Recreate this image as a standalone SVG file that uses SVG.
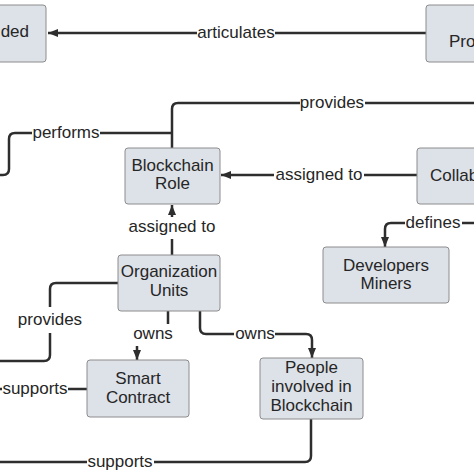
<svg xmlns="http://www.w3.org/2000/svg" width="474" height="474" viewBox="0 0 474 474">
<defs>
<marker id="arr" viewBox="0 0 10 8" markerWidth="10" markerHeight="8" refX="10" refY="4" orient="auto" markerUnits="userSpaceOnUse">
<path d="M0,0 L10,4 L0,8 z" fill="#2e2e2e"/>
</marker>
<style>
.box{fill:#dde1e8;stroke:#8c8c8c;stroke-width:1}
.t{font-family:"Liberation Sans",Arial,sans-serif;font-size:17px;fill:#262626;text-anchor:middle}
.c{fill:none;stroke:#2e2e2e;stroke-width:2.5}
.lb{fill:#ffffff}
</style>
</defs>
<rect width="474" height="474" fill="#ffffff"/>
<g id="connectors">
<path class="c" d="M426 33 L48 33" marker-end="url(#arr)"/>
<path class="c" d="M474 103 L178 103 Q172 103 172 109 L172 148"/>
<path class="c" d="M172 133 L15 133 Q9 133 9 139 L9 169 Q9 175 3 175 L0 175"/>
<path class="c" d="M417 175 L221 175" marker-end="url(#arr)"/>
<path class="c" d="M172 255 L172 205" marker-end="url(#arr)"/>
<path class="c" d="M474 223 L391 223 Q385 223 385 229 L385 247" marker-end="url(#arr)"/>
<path class="c" d="M118 283 L56 283 Q50 283 50 289 L50 355 Q50 361 44 361 L0 361"/>
<path class="c" d="M168 311 L168 334 L137 334 L137 360" marker-end="url(#arr)"/>
<path class="c" d="M200 311 L200 328 Q200 334 206 334 L306 334 Q312 334 312 340 L312 358" marker-end="url(#arr)"/>
<path class="c" d="M87 389 L0 389"/>
<path class="c" d="M311 419 L311 456 Q311 462 305 462 L0 462"/>
<rect class="lb" x="197" y="24" width="78" height="18"/>
<text class="t" x="236" y="38">articulates</text>
<rect class="lb" x="300" y="94" width="65" height="18"/>
<text class="t" x="332" y="108">provides</text>
<rect class="lb" x="32" y="124" width="68" height="18"/>
<text class="t" x="66" y="138">performs</text>
<rect class="lb" x="274" y="166" width="90" height="18"/>
<text class="t" x="319" y="180">assigned to</text>
<rect class="lb" x="128" y="217" width="89" height="22"/>
<text class="t" x="172" y="232">assigned to</text>
<rect class="lb" x="405" y="214" width="57" height="18"/>
<text class="t" x="433" y="228">defines</text>
<rect class="lb" x="17" y="307" width="66" height="26"/>
<text class="t" x="50" y="325">provides</text>
<rect class="lb" x="132" y="324" width="42" height="22"/>
<text class="t" x="153" y="339">owns</text>
<rect class="lb" x="234" y="325" width="41" height="18"/>
<text class="t" x="255" y="339">owns</text>
<rect class="lb" x="2" y="380" width="66" height="18"/>
<text class="t" x="35" y="394">supports</text>
<rect class="lb" x="87" y="453" width="67" height="18"/>
<text class="t" x="120" y="467">supports</text>
</g>
<g id="node-ded">
<rect class="box" x="-10" y="5" width="56" height="57" rx="3"/>
<text class="t" x="29" y="37" style="text-anchor:end">ded</text>
</g>
<g id="node-pro">
<rect class="box" x="426" y="5" width="60" height="57" rx="3"/>
<text class="t" x="449" y="47" style="text-anchor:start">Pro</text>
</g>
<g id="node-blockchain-role">
<rect class="box" x="125" y="148" width="95" height="56" rx="3"/>
<text class="t" x="172.5" y="171">Blockchain</text>
<text class="t" x="172.5" y="189">Role</text>
</g>
<g id="node-collab">
<rect class="box" x="417" y="148" width="70" height="56" rx="3"/>
<text class="t" x="430" y="181" style="text-anchor:start">Collab</text>
</g>
<g id="node-developers-miners">
<rect class="box" x="323" y="247" width="126" height="56" rx="3"/>
<text class="t" x="386" y="271">Developers</text>
<text class="t" x="386" y="289">Miners</text>
</g>
<g id="node-organization-units">
<rect class="box" x="118" y="255" width="102" height="56" rx="3"/>
<text class="t" x="169" y="277">Organization</text>
<text class="t" x="169" y="296">Units</text>
</g>
<g id="node-smart-contract">
<rect class="box" x="87" y="360" width="102" height="57" rx="3"/>
<text class="t" x="138" y="384">Smart</text>
<text class="t" x="138" y="403">Contract</text>
</g>
<g id="node-people">
<rect class="box" x="260" y="358" width="103" height="61" rx="3"/>
<text class="t" x="311.5" y="373">People</text>
<text class="t" x="311.5" y="392">involved in</text>
<text class="t" x="311.5" y="411">Blockchain</text>
</g>
</svg>
